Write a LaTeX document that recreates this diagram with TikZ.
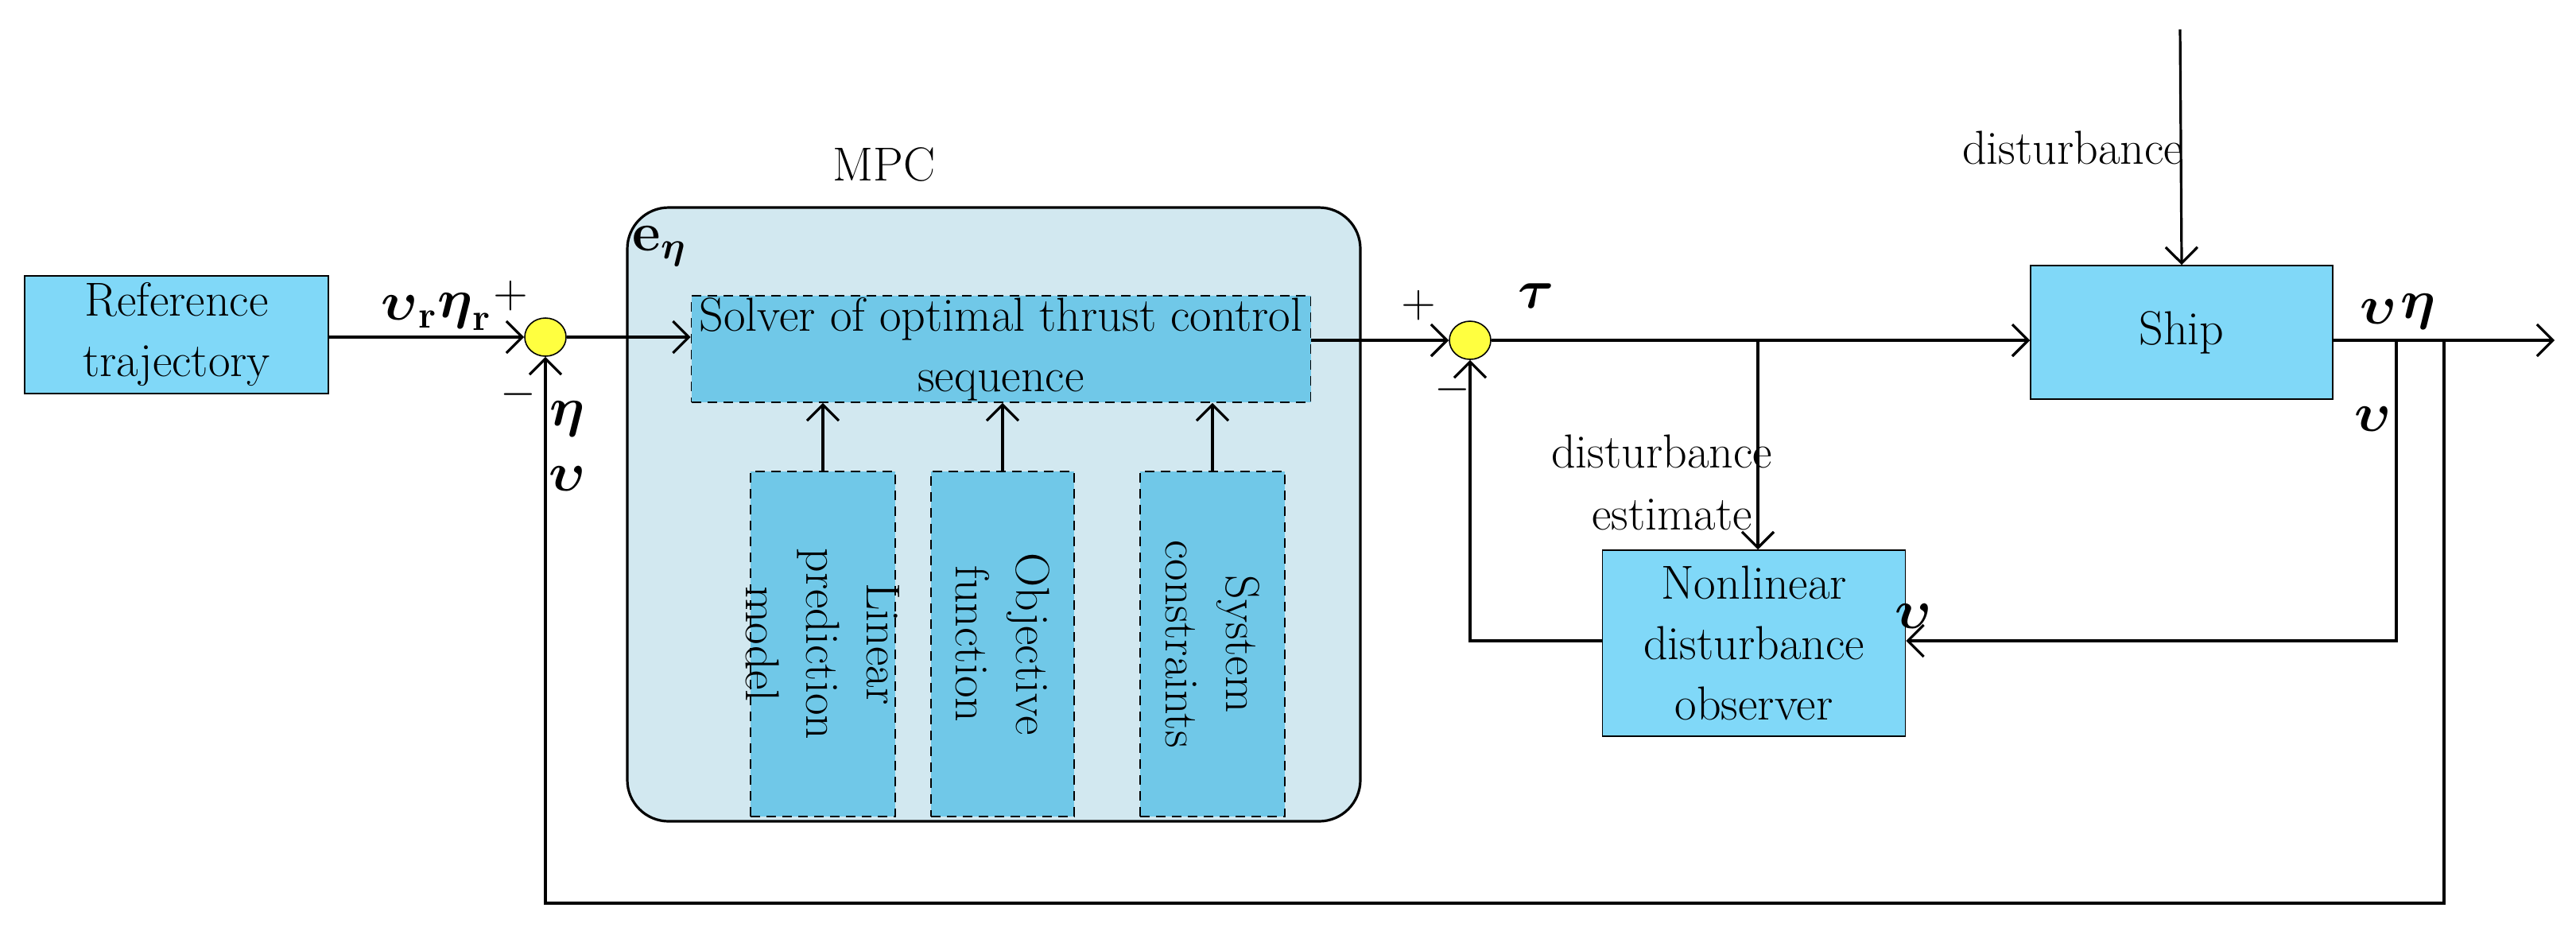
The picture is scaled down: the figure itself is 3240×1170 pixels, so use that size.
\documentclass[tikz,border=0pt]{standalone}
\usetikzlibrary{arrows.meta,positioning,shapes.geometric}
\usepackage{amsmath,amssymb}
\definecolor{boxc}{HTML}{80D8F8}
\definecolor{mpcc}{HTML}{D2E8F0}
\definecolor{subc}{HTML}{70C8E8}
\definecolor{sumc}{HTML}{FFFF40}
\begin{document}
\begin{tikzpicture}[x=0.25pt,y=-0.25pt,
  font=\fontsize{15}{19}\selectfont,
  >={Straight Barb[length=5pt,width=10pt]},
  blk/.style={draw, fill=boxc, align=center, inner sep=0pt},
  sub/.style={draw, densely dashed, fill=subc, inner sep=0pt},
  sumn/.style={draw, fill=sumc, ellipse, minimum width=13pt, minimum height=12pt, inner sep=0pt},
  line/.style={thick},
  lbl/.style={font=\fontsize{17}{19}\selectfont\bfseries}]
\useasboundingbox (0,0) rectangle (3240,1170);
\node[blk, minimum width=95.5pt, minimum height=37pt] (ref) at (222,421) {Reference\\trajectory};
\node[sumn] (s1) at (686,424) {};
\node[draw, thick, fill=mpcc, rounded corners=13pt, minimum width=230.5pt, minimum height=193pt] (mpc) at (1250,647) {};
\node at (1112,207) {MPC};
\node[sub, minimum width=194.75pt, minimum height=33.5pt, align=center] (sol) at (1259,439) {Solver of optimal thrust control\\sequence};
\node[sub, minimum width=45.5pt, minimum height=108.5pt] (lin) at (1035,810) {};
\node[rotate=-90, align=center] at (lin) {Linear\\prediction\\model};
\node[sub, minimum width=45pt, minimum height=108.5pt] (obj) at (1261,810) {};
\node[rotate=-90, align=center] at (obj) {Objective\\function};
\node[sub, minimum width=45.5pt, minimum height=108.5pt] (sys) at (1525,810) {};
\node[rotate=-90, align=center] at (sys) {System\\constraints};
\node[sumn] (s2) at (1849,428) {};
\node[blk, minimum width=95pt, minimum height=42pt] (ship) at (2744,418) {Ship};
\node[blk, minimum width=95.25pt, minimum height=58.5pt] (ndo) at (2206,809) {Nonlinear\\disturbance\\observer};
\coordinate (dtop) at (2742,37);
\coordinate (out) at (3213,428);
\coordinate (b1) at (3014,428);
\coordinate (b2) at (3074,428);
\coordinate (b3) at (2211,428);
\coordinate (bl) at (3074,1136);
\coordinate (br) at (686,1136);
\coordinate (nl) at (1849,806);
\coordinate (ni) at (3014,806);
\draw[line,->] (ref.east |- s1) -- (s1.west);
\draw[line,->] (s1.east) -- (sol.west |- s1);
\draw[line,->] (sol.east |- s2) -- (s2.west);
\draw[line,->] (s2.east) -- (ship.west |- s2);
\draw[line,->] (dtop) -- (ship.north);
\draw[line,->] (ship.east |- out) -- (out);
\draw[line,->] (b1) -- (ni) -- (ndo.east |- ni);
\draw[line,->] (b2) -- (bl) -- (br) -- (s1.south);
\draw[line,->] (b3) -- (ndo.north -| b3);
\draw[line,->] (ndo.west |- nl) -- (nl) -- (s2.south);
\draw[line,->] (lin.north) -- (lin.north |- sol.south);
\draw[line,->] (obj.north) -- (obj.north |- sol.south);
\draw[line,->] (sys.north) -- (sys.north |- sol.south);
\node[lbl] at (515,392) {$\boldsymbol{\upsilon}_{\mathbf r}$};
\node[lbl] at (585,392) {$\boldsymbol{\eta}_{\mathbf r}$};
\node at (642,372) {$+$};
\node at (652,496) {$-$};
\node[lbl] at (714,527) {$\boldsymbol{\eta}$};
\node[lbl] at (714,602) {$\boldsymbol{\upsilon}$};
\node[lbl] at (830,310) {$\mathbf{e}_{\boldsymbol{\eta}}$};
\node at (1784,384) {$+$};
\node at (1827,490) {$-$};
\node[lbl] at (1932,372) {$\boldsymbol{\tau}$};
\node at (2607,186) {disturbance};
\node at (2090,568) {disturbance};
\node at (2103,647) {estimate};
\node[lbl] at (2407,775) {$\boldsymbol{\upsilon}$};
\node[lbl] at (2985,527) {$\boldsymbol{\upsilon}$};
\node[lbl] at (2992,392) {$\boldsymbol{\upsilon}$};
\node[lbl] at (3041,392) {$\boldsymbol{\eta}$};
\end{tikzpicture}
\end{document}
